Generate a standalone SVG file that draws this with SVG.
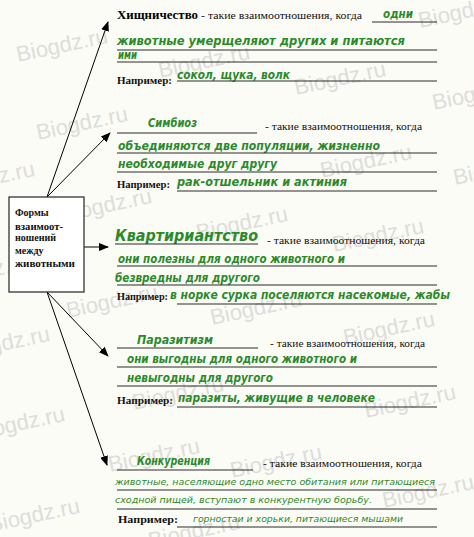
<svg xmlns="http://www.w3.org/2000/svg" width="474" height="537" viewBox="0 0 474 537">
<defs>
<marker id="ah" markerWidth="10" markerHeight="8" refX="9" refY="4" orient="auto" markerUnits="userSpaceOnUse">
<path d="M0,0 L10,4 L0,8 Z" fill="#000"/>
</marker>
<style>
.wm{font-family:"Liberation Sans",Arial,sans-serif;font-size:22px;fill:#c9c9c9;opacity:0.6}
.t{font-family:"Liberation Serif","Times New Roman",serif;font-size:12.5px;font-weight:bold;fill:#000}
.d{font-family:"Liberation Serif","Times New Roman",serif;font-size:10px;fill:#111}
.n{font-family:"Liberation Serif","Times New Roman",serif;font-size:10px;font-weight:bold;fill:#111}
.b{font-family:"Liberation Serif","Times New Roman",serif;font-size:10.5px;font-weight:bold;fill:#111}
.g{font-family:"DejaVu Sans","Liberation Sans",sans-serif;font-size:11.5px;font-style:italic;font-weight:bold;fill:#2b8a2b}
.gl{font-family:"DejaVu Sans","Liberation Sans",sans-serif;font-size:15px;font-style:italic;font-weight:bold;fill:#2b8a2b}
.gs{font-family:"DejaVu Sans","Liberation Sans",sans-serif;font-size:9.5px;font-style:italic;fill:#2b8a2b}
.u{stroke:#2a2a2a;stroke-width:1.2;fill:none}
.c{stroke:#000;stroke-width:1;fill:none;marker-end:url(#ah)}
</style>
</defs>
<rect x="0" y="0" width="474" height="537" fill="#fcfcf6"/>
<g id="watermarks">
<text class="wm" transform="translate(18,62) rotate(-12)">Biogdz.ru</text>
<text class="wm" transform="translate(160,78) rotate(-12)">Biogdz.ru</text>
<text class="wm" transform="translate(296,95) rotate(-12)">Biogdz.ru</text>
<text class="wm" transform="translate(420,28) rotate(-12)">Biogdz.ru</text>
<text class="wm" transform="translate(434,110) rotate(-12)">Biogdz.ru</text>
<text class="wm" transform="translate(38,140) rotate(-12)">Biogdz.ru</text>
<text class="wm" transform="translate(322,178) rotate(-12)">Biogdz.ru</text>
<text class="wm" transform="translate(-55,195) rotate(-12)">Biogdz.ru</text>
<text class="wm" transform="translate(455,185) rotate(-12)">Biogdz.ru</text>
<text class="wm" transform="translate(62,222) rotate(-12)">Biogdz.ru</text>
<text class="wm" transform="translate(198,240) rotate(-12)">Biogdz.ru</text>
<text class="wm" transform="translate(334,252) rotate(-12)">Biogdz.ru</text>
<text class="wm" transform="translate(-60,288) rotate(-12)">Biogdz.ru</text>
<text class="wm" transform="translate(68,318) rotate(-12)">Biogdz.ru</text>
<text class="wm" transform="translate(212,325) rotate(-12)">Biogdz.ru</text>
<text class="wm" transform="translate(345,345) rotate(-12)">Biogdz.ru</text>
<text class="wm" transform="translate(-40,360) rotate(-12)">Biogdz.ru</text>
<text class="wm" transform="translate(134,410) rotate(-12)">Biogdz.ru</text>
<text class="wm" transform="translate(366,418) rotate(-12)">Biogdz.ru</text>
<text class="wm" transform="translate(-25,440) rotate(-12)">Biogdz.ru</text>
<text class="wm" transform="translate(110,472) rotate(-12)">Biogdz.ru</text>
<text class="wm" transform="translate(232,478) rotate(-12)">Biogdz.ru</text>
<text class="wm" transform="translate(384,508) rotate(-12)">Biogdz.ru</text>
<text class="wm" transform="translate(-10,532) rotate(-12)">Biogdz.ru</text>
<text class="wm" transform="translate(150,548) rotate(-12)">Biogdz.ru</text>
</g>
<g id="connectors">
<line class="c" x1="47" y1="197" x2="108" y2="22"/>
<line class="c" x1="47" y1="197" x2="110" y2="133"/>
<line class="c" x1="84" y1="247" x2="108" y2="247"/>
<line class="c" x1="47" y1="292" x2="108" y2="356"/>
<line class="c" x1="47" y1="292" x2="107" y2="465"/>
</g>
<g id="root">
<rect x="9" y="197" width="75" height="95" fill="#fff" stroke="#333" stroke-width="1.3"/>
<text class="n" x="15" y="216">Формы</text>
<text class="n" x="15" y="230" textLength="48" lengthAdjust="spacingAndGlyphs">взаимоот-</text>
<text class="n" x="15" y="241">ношений</text>
<text class="n" x="15" y="254">между</text>
<text class="n" x="15" y="267" textLength="60" lengthAdjust="spacingAndGlyphs">животными</text>
</g>
<g id="predation">
<text class="t" x="117" y="19" textLength="81" lengthAdjust="spacingAndGlyphs">Хищничество</text>
<text class="d" x="201" y="19" textLength="161" lengthAdjust="spacingAndGlyphs">- такие взаимоотношения, когда</text>
<line class="u" x1="372" y1="22" x2="437" y2="22"/>
<text class="g" x="383" y="18" textLength="30" lengthAdjust="spacingAndGlyphs">одни</text>
<text class="g" x="117" y="45" textLength="288" lengthAdjust="spacingAndGlyphs">животные умерщеляют других и питаются</text>
<line class="u" x1="117" y1="50" x2="437" y2="50"/>
<text class="g" x="118" y="59" textLength="19" lengthAdjust="spacingAndGlyphs">ими</text>
<line class="u" x1="117" y1="62" x2="437" y2="62"/>
<text class="b" x="117" y="84" textLength="55" lengthAdjust="spacingAndGlyphs">Например:</text>
<text class="g" x="177" y="79" textLength="113" lengthAdjust="spacingAndGlyphs">сокол, щука, волк</text>
<line class="u" x1="177" y1="81" x2="437" y2="81"/>
</g>
<g id="symbiosis">
<line class="u" x1="117" y1="133" x2="257" y2="133"/>
<text class="g" x="148" y="127" textLength="49" lengthAdjust="spacingAndGlyphs">Симбиоз</text>
<text class="d" x="265" y="130" textLength="157" lengthAdjust="spacingAndGlyphs">- такие взаимоотношения, когда</text>
<text class="g" x="118" y="150" textLength="262" lengthAdjust="spacingAndGlyphs">объединяются две популяции, жизненно</text>
<line class="u" x1="117" y1="153" x2="437" y2="153"/>
<text class="g" x="118" y="168" textLength="159" lengthAdjust="spacingAndGlyphs">необходимые друг другу</text>
<line class="u" x1="117" y1="172" x2="437" y2="172"/>
<text class="b" x="117" y="188" textLength="53" lengthAdjust="spacingAndGlyphs">Например:</text>
<text class="g" x="177" y="186" textLength="170" lengthAdjust="spacingAndGlyphs">рак-отшельник и актиния</text>
<line class="u" x1="177" y1="191" x2="437" y2="191"/>
</g>
<g id="commensalism">
<text class="gl" x="115" y="241" textLength="143" lengthAdjust="spacingAndGlyphs">Квартириантство</text>
<line class="u" x1="115" y1="244" x2="258" y2="244"/>
<text class="d" x="267" y="244" textLength="158" lengthAdjust="spacingAndGlyphs">- такие взаимоотношения, когда</text>
<text class="g" x="118" y="263" textLength="227" lengthAdjust="spacingAndGlyphs">они полезны для одного животного и</text>
<line class="u" x1="117" y1="266" x2="437" y2="266"/>
<text class="g" x="115" y="282" textLength="145" lengthAdjust="spacingAndGlyphs">безвредны для другого</text>
<line class="u" x1="117" y1="285" x2="437" y2="285"/>
<text class="b" x="117" y="300" textLength="51" lengthAdjust="spacingAndGlyphs">Например:</text>
<text class="g" x="170" y="299" textLength="280" lengthAdjust="spacingAndGlyphs">в норке сурка поселяются насекомые, жабы</text>
<line class="u" x1="177" y1="304" x2="437" y2="304"/>
</g>
<g id="parasitism">
<line class="u" x1="117" y1="348" x2="258" y2="348"/>
<text class="g" x="137" y="344" textLength="76" lengthAdjust="spacingAndGlyphs">Паразитизм</text>
<text class="d" x="270" y="347" textLength="155" lengthAdjust="spacingAndGlyphs">- такие взаимоотношения, когда</text>
<text class="g" x="127" y="363" textLength="230" lengthAdjust="spacingAndGlyphs">они выгодны для одного животного и</text>
<line class="u" x1="117" y1="367" x2="437" y2="367"/>
<text class="g" x="127" y="382" textLength="146" lengthAdjust="spacingAndGlyphs">невыгодны для другого</text>
<line class="u" x1="117" y1="386" x2="437" y2="386"/>
<text class="b" x="117" y="404" textLength="56" lengthAdjust="spacingAndGlyphs">Например:</text>
<text class="g" x="178" y="402" textLength="197" lengthAdjust="spacingAndGlyphs">паразиты, живущие в человеке</text>
<line class="u" x1="177" y1="407" x2="437" y2="407"/>
</g>
<g id="competition">
<line class="u" x1="117" y1="470" x2="253" y2="470"/>
<text class="g" x="137" y="465" textLength="73" lengthAdjust="spacingAndGlyphs">Конкуренция</text>
<text class="d" x="263" y="467" textLength="159" lengthAdjust="spacingAndGlyphs">- такие взаимоотношения, когда</text>
<text class="gs" x="115" y="485" textLength="320" lengthAdjust="spacingAndGlyphs">животные, населяющие одно место обитания или питающиеся</text>
<line class="u" x1="117" y1="490" x2="437" y2="490"/>
<text class="gs" x="115" y="503" textLength="257" lengthAdjust="spacingAndGlyphs">сходной пищей, вступают в конкурентную борьбу.</text>
<line class="u" x1="117" y1="509" x2="437" y2="509"/>
<text class="b" x="118" y="523" textLength="60" lengthAdjust="spacingAndGlyphs" style="font-size:11px">Например:</text>
<text class="gs" x="193" y="522" textLength="210" lengthAdjust="spacingAndGlyphs">горностаи и хорьки, питающиеся мышами</text>
<line class="u" x1="177" y1="527" x2="437" y2="527"/>
</g>
</svg>
